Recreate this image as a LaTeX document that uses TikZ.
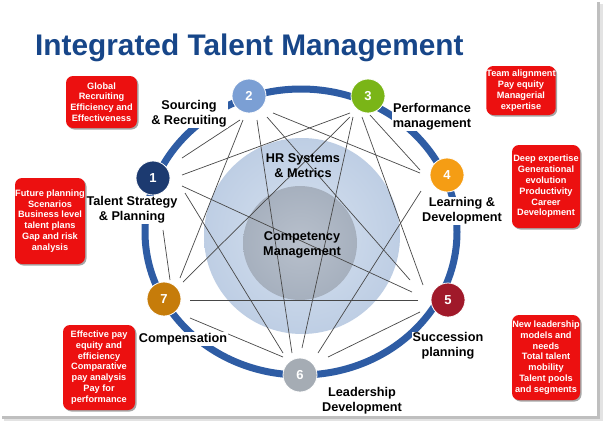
\documentclass[tikz,border=0pt]{standalone}
\usepackage{fontspec}
\setmainfont{Liberation Sans}
\usetikzlibrary{shadows}
\definecolor{titleblue}{RGB}{23,70,137}
\definecolor{ringblue}{RGB}{46,92,164}
\definecolor{spokegray}{RGB}{72,72,72}
\definecolor{boxred}{RGB}{236,16,16}
\definecolor{bigin}{RGB}{214,225,239}
\definecolor{bigout}{RGB}{190,206,228}
\definecolor{smallin}{RGB}{184,192,204}
\definecolor{smallout}{RGB}{166,176,190}
\definecolor{cA}{RGB}{28,58,112}
\definecolor{cB}{RGB}{123,159,212}
\definecolor{cC}{RGB}{122,181,23}
\definecolor{cD}{RGB}{245,157,20}
\definecolor{cE}{RGB}{160,25,42}
\definecolor{cF}{RGB}{165,172,180}
\definecolor{cG}{RGB}{198,124,10}
\pgfdeclarelayer{bg}
\pgfdeclarelayer{mid}
\pgfsetlayers{bg,mid,main}
\tikzset{
  num/.style={circle, minimum size=34pt, inner sep=0pt, draw=white, line width=0.8pt,
    text=white, font=\fontsize{13}{13}\selectfont\bfseries},
  lbl/.style={fill=white, inner sep=1pt, align=center,
    font=\fontsize{12.7}{15}\selectfont\bfseries},
  midtext/.style={inner sep=0pt, align=center,
    font=\fontsize{12.7}{15}\selectfont\bfseries},
  redbox/.style={fill=boxred, rounded corners=7pt, text=white, align=center, inner sep=0pt,
    font=\fontsize{9.2}{10.8}\selectfont\bfseries,
    drop shadow={shadow xshift=1.5pt, shadow yshift=-1.5pt, opacity=0.35, fill=black}},
  spoke/.style={draw=spokegray, line width=0.7pt},
  ringline/.style={draw=ringblue, line width=7pt}
}
\begin{document}
\begin{tikzpicture}[x=1pt,y=-1pt]
\useasboundingbox (0,0) rectangle (608,426);
\begin{pgfonlayer}{bg}
\fill[white] (0,0) rectangle (608,426);
\fill[gray!22] (600,4) rectangle (603,421);
\fill[gray!22] (4,419) rectangle (603,421);
\fill[gray!50] (597,2) rectangle (600,419);
\fill[gray!50] (2,416) rectangle (600,419);
\shade[inner color=bigin, outer color=bigout] (302,236) circle (98pt);
\shade[inner color=smallin, outer color=smallout] (300,243) circle (57pt);
\end{pgfonlayer}

% numbered circles
\node[num, fill=cA] (n1) at (153,178) {1};
\node[num, fill=cB] (n2) at (249,96) {2};
\node[num, fill=cC] (n3) at (368,96) {3};
\node[num, fill=cD] (n4) at (447,175) {4};
\node[num, fill=cE] (n5) at (448,300) {5};
\node[num, fill=cF] (n6) at (300,375) {6};
\node[num, fill=cG] (n7) at (164,299) {7};

\begin{pgfonlayer}{mid}
\draw[ringline] (301,232) ellipse [x radius=156pt, y radius=143pt];
\draw[spoke] ([shift={(29,-20)}]n1.center) -- ([shift={(-9,24)}]n2.center);
\draw[spoke] ([shift={(29,-3)}]n1.center) -- ([shift={(-18,17)}]n3.center);
\draw[spoke] ([shift={(29,8)}]n1.center) -- ([shift={(-36,-8)}]n5.center);
\draw[spoke] ([shift={(32,15)}]n1.center) -- ([shift={(-17,-22)}]n6.center);
\draw[spoke] ([shift={(10,52)}]n1.center) -- ([shift={(6,-19)}]n7.center);
\draw[spoke] ([shift={(-6,24)}]n2.center) -- ([shift={(16,-21)}]n7.center);
\draw[spoke] ([shift={(8,24)}]n2.center) -- ([shift={(-8,-22)}]n6.center);
\draw[spoke] ([shift={(18,21)}]n2.center) -- ([shift={(-38,-20)}]n5.center);
\draw[spoke] ([shift={(24,17)}]n2.center) -- ([shift={(-27,-2)}]n4.center);
\draw[spoke] ([shift={(-18,21)}]n3.center) -- ([shift={(19,-17)}]n7.center);
\draw[spoke] ([shift={(-15,21)}]n3.center) -- ([shift={(2,-27)}]n6.center);
\draw[spoke] ([shift={(-6,21)}]n3.center) -- ([shift={(-25,-15)}]n5.center);
\draw[spoke] ([shift={(2,19)}]n3.center) -- ([shift={(-27,-5)}]n4.center);
\draw[spoke] ([shift={(-26,16)}]n4.center) -- ([shift={(18,-22)}]n6.center);
\draw[spoke] ([shift={(-30,0)}]n5.center) -- ([shift={(26,1)}]n7.center);
\draw[spoke] ([shift={(-28,12)}]n5.center) -- ([shift={(28,-18)}]n6.center);
\draw[spoke] ([shift={(-17,-18)}]n6.center) -- ([shift={(26,19)}]n7.center);

% labels
\node[lbl] (l2) at (189,114) {Sourcing\\\& Recruiting};
\node[lbl] (l3) at (432,116.5) {Performance\\management};
\node[lbl] (l4) at (462,211) {Learning \&\\Development};
\node[lbl] (l1) at (132,210) {Talent Strategy\\\& Planning};
\node[lbl] (l7) at (183,339) {Compensation};
\node[lbl] (l5) at (448,346) {Succession\\planning};
\node[lbl] (l6) at (362,401) {Leadership\\Development};
\end{pgfonlayer}

\node[midtext] (hr) at (303,166) {HR Systems\\\& Metrics};
\node[midtext] (cm) at (302,245) {Competency\\Management};

% red boxes
\node[redbox, minimum width=71pt, minimum height=52pt] (bA) at (101.5,102)
  {Global\\Recruiting\\Efficiency and\\Effectiveness};
\node[redbox, minimum width=70pt, minimum height=86pt] (bB) at (50,221)
  {Future planning\\Scenarios\\Business level\\talent plans\\Gap and risk\\analysis};
\node[redbox, minimum width=68pt, minimum height=49pt] (bC) at (521,90.5)
  {Team alignment\\Pay equity\\Managerial\\expertise};
\node[redbox, minimum width=68pt, minimum height=83pt] (bD) at (546,186.5)
  {Deep expertise\\Generational\\evolution\\Productivity\\Career\\Development};
\node[redbox, minimum width=72pt, minimum height=85pt] (bE) at (99,367.5)
  {Effective pay\\equity and\\efficiency\\Comparative\\pay analysis\\Pay for\\performance};
\node[redbox, minimum width=68pt, minimum height=85pt] (bF) at (546,357.5)
  {New leadership\\models and\\needs\\Total talent\\mobility\\Talent pools\\and segments};

% title
\node[anchor=base west, inner sep=0pt, text=titleblue,
  font=\fontsize{29.8}{30}\selectfont\bfseries] (title) at (35,55)
  {Integrated Talent Management};
\end{tikzpicture}
\end{document}
